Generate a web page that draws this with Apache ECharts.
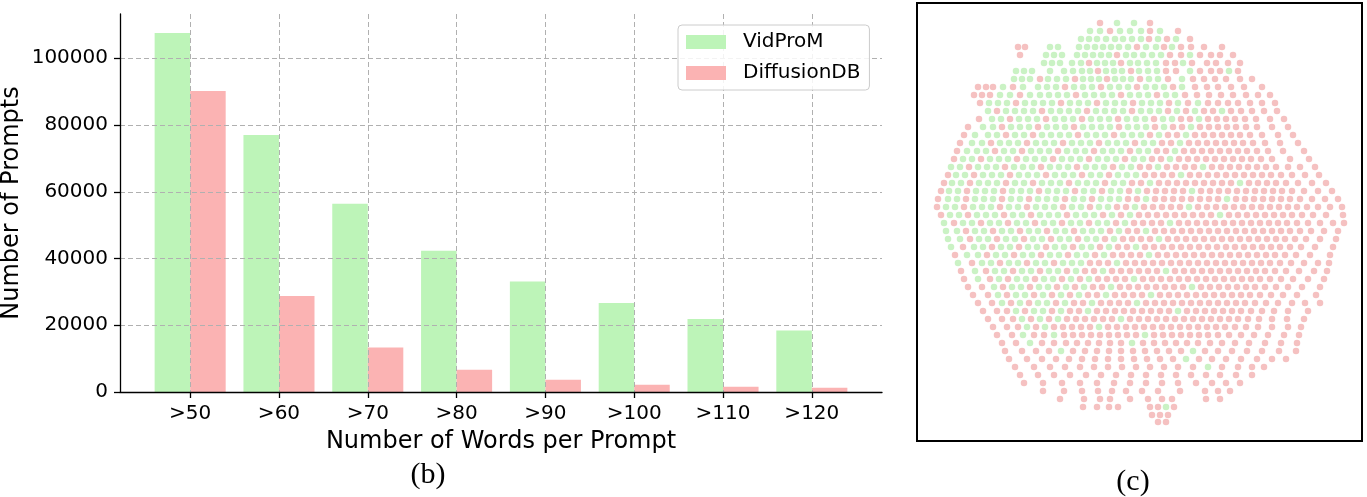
<!DOCTYPE html>
<html><head><meta charset="utf-8">
<script src="https://cdn.jsdelivr.net/npm/echarts@6/dist/echarts.min.js"></script>
<style>html,body{margin:0;padding:0;background:#fff}#c{width:1367px;height:497px}</style>
</head><body><div id="c"></div>
<script>
// ---- Panel (b): bar chart data ----
const categories = ['>50','>60','>70','>80','>90','>100','>110','>120'];
const vidpromCounts = [107600, 77000, 56400, 42300, 33100, 26700, 21900, 18400];
const diffusiondbCounts = [90200, 28800, 13300, 6700, 3700, 2200, 1600, 1300];
const yTicks = [0, 20000, 40000, 60000, 80000, 100000];

// ---- Panel (c): 2-D embedding points, rows of [y, x1, x2, ...] ----
const greenRows = [
[23,1117,1134],
[31,1090,1100,1120,1130,1141,1160],
[39,1081,1089,1097,1106,1115,1123,1132,1141,1158,1176],
[47,1050,1058,1079,1087,1095,1103,1111,1119,1128,1146,1156,1172],
[55,1046,1054,1062,1077,1085,1093,1101,1109,1126,1134,1143,1152,1161,1190],
[63,1044,1052,1060,1072,1081,1097,1105,1113,1130,1138,1147,1156,1183],
[71,1016,1024,1032,1050,1064,1073,1082,1090,1106,1114,1122,1139,1148,1157,1190,1229],
[79,1014,1022,1030,1048,1057,1066,1083,1091,1099,1115,1123,1131,1149,1158,1182],
[87,1003,1023,1038,1047,1056,1074,1083,1092,1110,1119,1128,1146,1155,1164,1182],
[95,1000,1010,1030,1040,1049,1058,1067,1085,1094,1103,1112,1130,1139,1148,1166,1175],
[103,989,998,1007,1025,1034,1043,1052,1070,1079,1088,1106,1115,1124,1142,1151,1160,1178,1198],
[111,988,1006,1015,1024,1033,1051,1060,1069,1078,1096,1105,1114,1123,1141,1150,1159,1177,1195,1222],
[119,992,1001,1019,1028,1037,1055,1064,1073,1091,1100,1109,1127,1136,1145,1163,1172,1199],
[127,983,993,1011,1020,1029,1047,1056,1065,1083,1092,1101,1110,1128,1137,1146,1164,1191],
[135,975,988,997,1015,1024,1042,1051,1060,1069,1087,1096,1105,1123,1132,1141,1159,1186],
[143,972,982,1000,1009,1018,1036,1045,1054,1072,1081,1090,1108,1117,1126,1144,1153,1180],
[151,967,977,986,1004,1013,1031,1040,1049,1067,1076,1085,1103,1112,1121,1139,1148,1175],
[159,963,972,990,999,1008,1026,1035,1044,1062,1071,1080,1098,1107,1116,1134,1143,1170],
[167,951,960,978,987,996,1014,1023,1032,1050,1059,1068,1086,1095,1104,1122,1131,1158,1203],
[175,956,965,983,992,1001,1019,1028,1037,1055,1064,1073,1091,1100,1118,1127,1136,1181],
[183,952,961,979,988,997,1015,1024,1042,1051,1060,1078,1087,1096,1114,1123,1150,1240],
[191,949,958,976,985,994,1012,1021,1030,1048,1057,1066,1084,1093,1111,1120,1138,1192],
[199,948,957,975,984,993,1011,1020,1038,1047,1056,1074,1083,1101,1110,1119,1146,1227],
[207,946,955,973,982,991,1009,1018,1036,1045,1054,1072,1081,1099,1108,1135,1189],
[215,950,959,977,986,995,1013,1022,1040,1049,1058,1076,1085,1094,1112,1130,1220],
[223,944,963,972,990,999,1017,1026,1044,1053,1071,1080,1098,1107,1125,1170],
[231,946,957,975,984,1002,1011,1029,1038,1056,1065,1083,1092,1101,1119,1146],
[239,948,960,979,988,1006,1015,1033,1042,1060,1069,1087,1096,1114,1159],
[247,951,974,983,1001,1010,1028,1037,1055,1064,1082,1091,1109,1136],
[255,967,978,996,1005,1023,1032,1050,1059,1077,1086,1104,1149],
[263,958,982,991,1009,1018,1036,1045,1063,1072,1081,1117],
[271,975,995,1004,1022,1031,1049,1058,1076,1103,1166],
[279,978,999,1017,1026,1044,1053,1071,1089,1134],
[287,994,1012,1021,1039,1048,1066,1084,1111,1192],
[295,998,1016,1025,1043,1061,1079,1106,1151],
[303,1002,1020,1038,1047,1065,1092,1137],
[311,1016,1034,1043,1061,1088,1178],
[319,1022,1040,1058,1121],
[327,1027,1045,1099],
[335,1023,1054,1145],
[343,1030,1132],
[351,1061,1193],
[359,1186],
[367,1208],
[407,1166]
];
const pinkRows = [
[23,1100,1150],
[31,1110,1150,1178],
[39,1149,1167,1190],
[47,1018,1025,1137,1164,1181,1191,1204,1222],
[55,1020,1117,1170,1181,1200,1211,1220,1233],
[63,1089,1121,1166,1175,1192,1207,1216,1228,1240],
[71,1098,1131,1166,1176,1200,1211,1220,1238],
[79,1040,1075,1107,1140,1168,1193,1204,1215,1226,1240,1252],
[87,978,986,993,1013,1065,1101,1137,1173,1195,1207,1218,1231,1244,1262],
[95,974,982,990,1020,1076,1121,1157,1185,1197,1209,1221,1233,1246,1258,1270],
[103,980,1016,1061,1097,1133,1169,1188,1208,1218,1228,1238,1250,1262,1275],
[111,997,1042,1087,1132,1168,1186,1204,1213,1231,1241,1252,1264,1277],
[119,979,1010,1046,1082,1118,1154,1181,1190,1208,1217,1226,1235,1245,1256,1270,1284],
[127,968,1002,1038,1074,1119,1155,1173,1182,1200,1209,1218,1227,1236,1246,1257,1272,1288],
[135,964,1006,1033,1078,1114,1150,1168,1177,1195,1204,1213,1222,1231,1240,1250,1262,1278,1293],
[143,960,991,1027,1063,1099,1135,1162,1171,1189,1198,1207,1216,1225,1234,1243,1253,1265,1280,1298],
[151,957,995,1022,1058,1094,1130,1157,1166,1184,1193,1202,1211,1220,1229,1238,1247,1257,1268,1283,1304],
[159,954,981,1017,1053,1089,1125,1152,1161,1179,1188,1197,1206,1215,1224,1233,1242,1251,1261,1272,1290,1309],
[167,969,1005,1041,1077,1113,1140,1149,1167,1176,1185,1194,1212,1221,1230,1239,1248,1257,1266,1276,1288,1300,1315],
[175,948,974,1010,1046,1082,1109,1145,1154,1163,1172,1190,1199,1208,1217,1226,1235,1244,1253,1262,1271,1281,1292,1305,1319],
[183,944,970,1006,1033,1069,1105,1132,1141,1159,1168,1177,1186,1195,1204,1213,1222,1231,1249,1258,1267,1276,1286,1298,1312,1326],
[191,941,967,1003,1039,1075,1102,1129,1147,1156,1165,1174,1183,1201,1210,1219,1228,1237,1246,1255,1264,1273,1282,1292,1304,1318,1332],
[199,938,966,1002,1029,1065,1092,1128,1137,1155,1164,1173,1182,1191,1200,1209,1218,1236,1245,1254,1263,1272,1281,1290,1300,1312,1325,1338],
[207,937,964,1000,1027,1063,1090,1117,1126,1144,1153,1162,1171,1180,1198,1207,1216,1225,1234,1243,1252,1261,1270,1279,1288,1297,1307,1318,1330,1342],
[215,941,968,1004,1031,1067,1103,1121,1139,1148,1157,1166,1175,1184,1193,1202,1211,1229,1238,1247,1256,1265,1274,1283,1292,1302,1313,1326,1343],
[223,954,981,1008,1035,1062,1089,1116,1134,1143,1152,1161,1179,1188,1197,1206,1215,1224,1233,1242,1251,1260,1269,1278,1287,1297,1308,1320,1333,1344],
[231,966,993,1020,1047,1074,1110,1128,1137,1155,1164,1173,1182,1191,1200,1209,1218,1227,1236,1245,1254,1263,1272,1281,1290,1300,1311,1324,1338],
[239,970,997,1024,1051,1078,1105,1123,1132,1141,1150,1168,1177,1186,1195,1204,1213,1222,1231,1240,1249,1258,1267,1276,1285,1295,1306,1320,1336],
[247,963,992,1019,1046,1073,1100,1118,1127,1145,1154,1163,1172,1181,1190,1199,1208,1217,1226,1235,1244,1253,1262,1271,1280,1290,1301,1315,1333],
[255,955,987,1014,1041,1068,1095,1113,1122,1131,1140,1158,1167,1176,1185,1194,1203,1212,1221,1230,1239,1248,1257,1266,1275,1285,1296,1310,1330],
[263,972,1000,1027,1054,1090,1099,1108,1126,1135,1144,1153,1162,1171,1180,1189,1198,1207,1216,1225,1234,1243,1252,1261,1270,1280,1291,1304,1318,1329],
[271,961,986,1013,1040,1067,1085,1094,1112,1121,1130,1139,1148,1157,1175,1184,1193,1202,1211,1220,1229,1238,1247,1256,1265,1275,1286,1299,1314,1327],
[279,964,990,1008,1035,1062,1080,1098,1107,1116,1125,1143,1152,1161,1170,1179,1188,1197,1206,1215,1224,1233,1242,1251,1260,1270,1281,1293,1308,1324],
[287,968,982,1003,1030,1057,1075,1093,1102,1120,1129,1138,1147,1156,1165,1174,1183,1201,1210,1219,1228,1237,1246,1255,1265,1276,1288,1302,1320],
[295,973,988,1007,1034,1052,1070,1088,1097,1115,1124,1133,1142,1160,1169,1178,1187,1196,1205,1214,1223,1232,1241,1250,1260,1271,1283,1297,1316],
[303,978,992,1011,1029,1056,1074,1083,1101,1110,1119,1128,1146,1155,1164,1173,1182,1191,1200,1209,1218,1227,1236,1245,1255,1266,1278,1292,1305,1320],
[311,983,997,1007,1025,1052,1070,1079,1097,1106,1115,1124,1133,1142,1151,1160,1169,1187,1196,1205,1214,1223,1232,1241,1251,1262,1274,1288,1308],
[319,988,1002,1013,1031,1049,1067,1076,1085,1094,1103,1112,1130,1139,1148,1157,1166,1175,1184,1193,1202,1211,1220,1229,1238,1248,1259,1272,1287,1304],
[327,993,1007,1018,1036,1054,1063,1072,1081,1090,1108,1117,1126,1135,1144,1153,1162,1171,1180,1189,1198,1207,1216,1225,1235,1246,1258,1272,1288,1301],
[335,997,1012,1034,1044,1064,1073,1082,1091,1100,1109,1118,1127,1136,1154,1163,1172,1181,1190,1199,1208,1218,1229,1241,1254,1268,1284,1299],
[343,1002,1016,1042,1054,1066,1077,1088,1099,1110,1121,1143,1154,1165,1176,1187,1198,1210,1222,1235,1249,1265,1281,1297],
[351,1005,1022,1036,1049,1073,1085,1097,1109,1121,1133,1145,1157,1169,1181,1205,1218,1232,1247,1262,1279,1296],
[359,1009,1027,1042,1056,1069,1082,1095,1108,1121,1134,1147,1160,1173,1199,1212,1226,1241,1257,1272,1286],
[367,1015,1034,1050,1065,1080,1094,1108,1122,1136,1150,1164,1178,1193,1222,1238,1252,1264],
[375,1020,1038,1054,1070,1086,1101,1116,1131,1146,1161,1176,1191,1206,1220,1236,1252],
[383,1024,1043,1062,1080,1097,1114,1130,1146,1162,1178,1196,1212,1226,1240],
[391,1043,1064,1082,1098,1112,1126,1142,1158,1180,1205,1218,1230],
[399,1060,1084,1100,1110,1130,1148,1162,1172,1206,1220],
[407,1083,1097,1109,1118,1150,1158,1174],
[415,1152,1160,1168],
[422,1158,1166]
];

const GREEN = '#bdf4b8', PINK = '#fbb3b3';
const DOT_GREEN = '#bdefb5', DOT_PINK = '#f3b1b1';
const FONT = 'DejaVu Sans';

function rowsToPoints(rows) {
  const out = [];
  rows.forEach(r => { for (let k = 1; k < r.length; k++) out.push([r[k], r[0]]); });
  return out;
}
function barSeries(name, counts, offset, color) {
  return {
    type: 'custom', name: name, xAxisIndex: 0, yAxisIndex: 0, z: 1,
    itemStyle: { color: color },
    data: counts.map((v, i) => [i, v]),
    encode: { x: 0, y: 1 },
    renderItem: function (params, api) {
      const i = api.value(0), v = api.value(1);
      const a = api.coord([i + offset, v]);
      const b = api.coord([i + offset + 0.4, 0]);
      return { type: 'rect', shape: { x: a[0], y: a[1], width: b[0] - a[0], height: b[1] - a[1] }, style: { fill: color } };
    }
  };
}
const catIdx = categories.map((_, i) => i);
const dash = { color: '#b0b0b0', width: 1, type: [5, 3] };

const chart = echarts.init(document.getElementById('c'), null, { renderer: 'canvas' });
chart.setOption({
  animation: false,
  backgroundColor: '#fff',
  grid: [
    { left: 120, top: 14, width: 762, height: 378, outerBoundsMode: 'none', containLabel: false },
    { left: 917, top: 3, width: 445, height: 438, show: true, borderColor: '#000', borderWidth: 2, backgroundColor: '#fff', outerBoundsMode: 'none', containLabel: false }
  ],
  xAxis: [
    {
      type: 'value', gridIndex: 0, min: -0.79, max: 7.79, minInterval: 1, maxInterval: 1, z: 5,
      axisLine: { show: true, onZero: false, lineStyle: { color: '#000', width: 1.3 } },
      axisTick: { show: true, length: 6, customValues: catIdx, lineStyle: { color: '#000', width: 1.3 } },
      axisLabel: { customValues: catIdx, formatter: v => categories[Math.round(v)], color: '#000', fontSize: 20, fontFamily: FONT, margin: 12 },
      splitLine: { show: true, lineStyle: dash, showMinLine: true, showMaxLine: true },
      name: 'Number of Words per Prompt', nameLocation: 'middle', nameGap: 38, nameMoveOverlap: false,
      nameTextStyle: { fontSize: 24, fontFamily: FONT, color: '#000' }
    },
    { type: 'value', gridIndex: 1, min: 917, max: 1362, show: false }
  ],
  yAxis: [
    {
      type: 'value', gridIndex: 0, min: 0, max: 113260, interval: 20000, z: 5,
      axisLine: { show: true, onZero: false, lineStyle: { color: '#000', width: 1.3 } },
      axisTick: { show: true, length: 6, customValues: yTicks, lineStyle: { color: '#000', width: 1.3 } },
      axisLabel: { customValues: yTicks, formatter: v => String(v), color: '#000', fontSize: 20, fontFamily: FONT, margin: 12 },
      splitLine: { show: true, lineStyle: dash, showMinLine: false, showMaxLine: true },
      name: 'Number of Prompts', nameLocation: 'middle', nameGap: 96, nameMoveOverlap: false,
      nameTextStyle: { fontSize: 24, fontFamily: FONT, color: '#000' }
    },
    { type: 'value', gridIndex: 1, min: 3, max: 441, inverse: true, show: false }
  ],
  legend: {
    data: [{ name: 'VidProM', icon: 'rect' }, { name: 'DiffusionDB', icon: 'rect' }],
    orient: 'vertical', left: 678, top: 25, itemWidth: 40, itemHeight: 14, itemGap: 7,
    padding: [5, 9, 5, 8], borderColor: '#cccccc', borderWidth: 1, borderRadius: 4,
    backgroundColor: 'rgba(255,255,255,0.85)', z: 10, selectedMode: false,
    textStyle: { fontSize: 20, fontFamily: FONT, color: '#000', padding: [0, 0, 0, 12], lineHeight: 24 }
  },
  series: [
    barSeries('VidProM', vidpromCounts, -0.4, GREEN),
    barSeries('DiffusionDB', diffusiondbCounts, 0, PINK),
    { type: 'scatter', name: 'emb-vidprom', xAxisIndex: 1, yAxisIndex: 1, data: rowsToPoints(greenRows),
      symbolSize: 6.5, itemStyle: { color: DOT_GREEN }, silent: true },
    { type: 'scatter', name: 'emb-diffusiondb', xAxisIndex: 1, yAxisIndex: 1, data: rowsToPoints(pinkRows),
      symbolSize: 6.5, itemStyle: { color: DOT_PINK }, silent: true }
  ],
  graphic: [
    { type: 'text', x: 428, y: 475, style: { text: '(b)', fontSize: 30, fontFamily: 'Liberation Serif', fill: '#000', align: 'center', verticalAlign: 'middle' } },
    { type: 'text', x: 1133, y: 482, style: { text: '(c)', fontSize: 30, fontFamily: 'Liberation Serif', fill: '#000', align: 'center', verticalAlign: 'middle' } }
  ]
});
</script>
</body></html>
